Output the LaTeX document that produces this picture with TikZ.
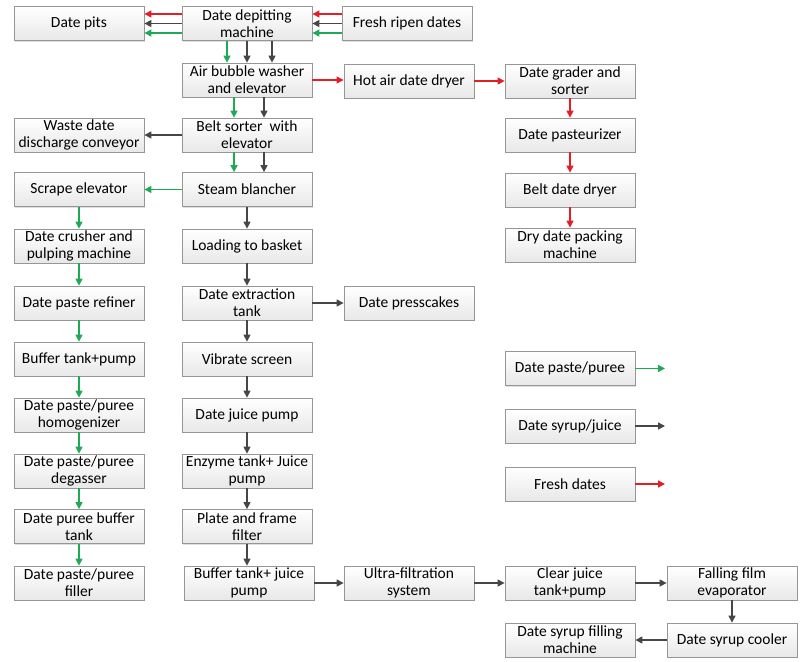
\documentclass[tikz,border=0pt]{standalone}
\usepackage{fontspec}
\setmainfont{Carlito}
\usetikzlibrary{arrows.meta,shadows}
\definecolor{fred}{RGB}{228,30,40}
\definecolor{fgrn}{RGB}{30,170,85}
\definecolor{fgry}{RGB}{70,70,70}
\definecolor{bdr}{RGB}{150,150,150}
\begin{document}
\begin{tikzpicture}[x=1pt,y=-1pt,
  box/.style={draw=bdr,line width=0.8pt,top color=white,bottom color=black!9,
    minimum width=130pt,minimum height=34pt,inner sep=0.5pt,align=center,
    font=\fontsize{15.5}{17}\selectfont,
    drop shadow={opacity=0.25,shadow xshift=1.2pt,shadow yshift=-1.2pt}},
  arr/.style={line width=1.4pt,-{Triangle[length=7pt,width=7pt]}},
  redarr/.style={arr,draw=fred,fill=fred},
  grnarr/.style={arr,draw=fgrn,fill=fgrn},
  gryarr/.style={arr,draw=fgry,fill=fgry}]
\useasboundingbox[fill=white] (0,0) rectangle (800,661);
% column 1
\node[box] (pits) at (79,23.5) {Date pits};
\node[box] (waste) at (79,135) {Waste date\\discharge conveyor};
\node[box] (scrape) at (79,189.5) {Scrape elevator};
\node[box] (crush) at (79,246) {Date crusher and\\pulping machine};
\node[box] (refiner) at (79,303) {Date paste refiner};
\node[box] (buf) at (79,359) {Buffer tank+pump};
\node[box] (homog) at (79,415) {Date paste/puree\\homogenizer};
\node[box] (degas) at (79,471) {Date paste/puree\\degasser};
\node[box] (pbuf) at (79,526.5) {Date puree buffer\\tank};
\node[box] (filler) at (79,583) {Date paste/puree\\filler};
% column 2
\node[box] (depit) at (247,23.5) {Date depitting\\machine};
\node[box] (air) at (247,80) {Air bubble washer\\and elevator};
\node[box] (belt) at (247,135) {Belt sorter\ \ with\\elevator};
\node[box] (steam) at (247,189.5) {Steam blancher};
\node[box] (load) at (247,246) {Loading to basket};
\node[box] (extract) at (247,303) {Date extraction\\tank};
\node[box] (vib) at (247,359) {Vibrate screen};
\node[box] (pump) at (247,415) {Date juice pump};
\node[box] (enz) at (247,471) {Enzyme tank+ Juice\\pump};
\node[box] (plate) at (247,526.5) {Plate and frame\\filter};
\node[box] (bjuice) at (249,583) {Buffer tank+ juice\\pump};
% column 3
\node[box] (fresh) at (407,23.5) {Fresh ripen dates};
\node[box] (hot) at (409,81) {Hot air date dryer};
\node[box] (press) at (409,303) {Date presscakes};
\node[box] (ultra) at (409,583) {Ultra-filtration\\system};
% column 4
\node[box] (grader) at (570,81) {Date grader and\\sorter};
\node[box] (past) at (570,135) {Date pasteurizer};
\node[box] (beltdry) at (570,190) {Belt date dryer};
\node[box] (drypack) at (570,245) {Dry date packing\\machine};
\node[box] (legpaste) at (570,368.5) {Date paste/puree};
\node[box] (legsyrup) at (570,426) {Date syrup/juice};
\node[box] (legfresh) at (570,484) {Fresh dates};
\node[box] (clear) at (570,583) {Clear juice\\tank+pump};
\node[box] (fill) at (570,640) {Date syrup filling\\machine};
% column 5
\node[box] (fall) at (732,583) {Falling film\\evaporator};
\node[box] (cool) at (732,640) {Date syrup cooler};
% legend arrow ends
\coordinate (lpE) at (665,368.5);
\coordinate (lsE) at (665,426);
\coordinate (lfE) at (665,484);
% top triple arrows
\draw[redarr] (depit.west |- 0,14) -- (pits.east |- 0,14);
\draw[gryarr] (depit.west |- 0,23.5) -- (pits.east |- 0,23.5);
\draw[grnarr] (depit.west |- 0,33) -- (pits.east |- 0,33);
\draw[redarr] (fresh.west |- 0,14) -- (depit.east |- 0,14);
\draw[gryarr] (fresh.west |- 0,23.5) -- (depit.east |- 0,23.5);
\draw[grnarr] (fresh.west |- 0,33) -- (depit.east |- 0,33);
% depit -> air
\draw[grnarr] (depit.south -| 227,0) -- (air.north -| 227,0);
\draw[gryarr] (depit.south -| 247,0) -- (air.north -| 247,0);
\draw[gryarr] (depit.south -| 272,0) -- (air.north -| 272,0);
% air -> belt -> steam
\draw[grnarr] (air.south -| 234,0) -- (belt.north -| 234,0);
\draw[gryarr] (air.south -| 264,0) -- (belt.north -| 264,0);
\draw[grnarr] (belt.south -| 234,0) -- (steam.north -| 234,0);
\draw[gryarr] (belt.south -| 264,0) -- (steam.north -| 264,0);
\draw[gryarr] (belt) -- (waste);
% red path
\draw[redarr] (air.east |- 0,80) -- (hot.west |- 0,80);
\draw[redarr] (hot) -- (grader);
\draw[redarr] (grader) -- (past);
\draw[redarr] (past) -- (beltdry);
\draw[redarr] (beltdry) -- (drypack);
% green path
\draw[grnarr] (steam) -- (scrape);
\draw[grnarr] (scrape) -- (crush);
\draw[grnarr] (crush) -- (refiner);
\draw[grnarr] (refiner) -- (buf);
\draw[grnarr] (buf) -- (homog);
\draw[grnarr] (homog) -- (degas);
\draw[grnarr] (degas) -- (pbuf);
\draw[grnarr] (pbuf) -- (filler);
% gray path
\draw[gryarr] (steam) -- (load);
\draw[gryarr] (load) -- (extract);
\draw[gryarr] (extract) -- (press);
\draw[gryarr] (extract) -- (vib);
\draw[gryarr] (vib) -- (pump);
\draw[gryarr] (pump) -- (enz);
\draw[gryarr] (enz) -- (plate);
\draw[gryarr] (plate.south -| 247,0) -- (bjuice.north -| 247,0);
\draw[gryarr] (bjuice) -- (ultra);
\draw[gryarr] (ultra) -- (clear);
\draw[gryarr] (clear) -- (fall);
\draw[gryarr] (fall) -- (cool);
\draw[gryarr] (cool) -- (fill);
% legend
\draw[grnarr] (legpaste.east) -- (lpE);
\draw[gryarr] (legsyrup.east) -- (lsE);
\draw[redarr] (legfresh.east) -- (lfE);
\end{tikzpicture}
\end{document}
